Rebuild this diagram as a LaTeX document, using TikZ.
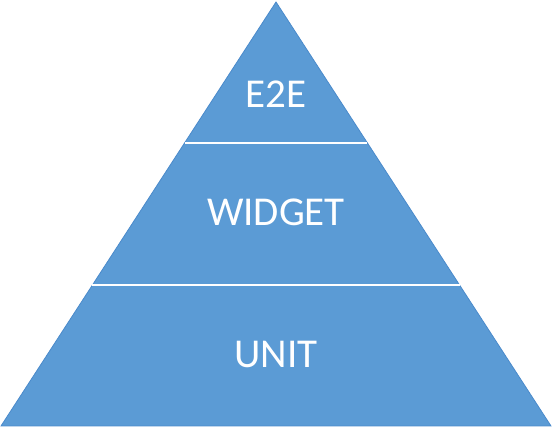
\documentclass[tikz,border=0pt]{standalone}
\usepackage{fontspec}
\setmainfont{Carlito}
\usepackage{xcolor}
\usepackage{tikz}
\usetikzlibrary{calc}
\definecolor{layerblue}{HTML}{5B9BD5}
\definecolor{edgeblue}{HTML}{4A8ACB}

\begin{document}
\begin{tikzpicture}[x=1pt,y=1pt,
    layertext/.style={text=white, inner sep=0pt, font=\fontsize{41}{49}\selectfont}]
    \useasboundingbox (0,0) rectangle (552,428);
    \coordinate (top) at (276,426); \coordinate (bl) at (1,2); \coordinate (br) at (551,2);
    \fill[layerblue, draw=edgeblue, line width=0.8pt] (bl) -- (top) -- (br) -- cycle;

    \foreach \f in {0.3325,0.6675} \draw[white, line width=1.3pt] ($(bl)!\f!(top)$) -- ($(br)!\f!(top)$); % Layer separators

    \node[layertext] (e2e) at (276,334) {E2E};
    \node[layertext] (widget) at (276,216) {WIDGET};
    \node[layertext] (unit) at (276,73) {UNIT};
\end{tikzpicture}
\end{document}
